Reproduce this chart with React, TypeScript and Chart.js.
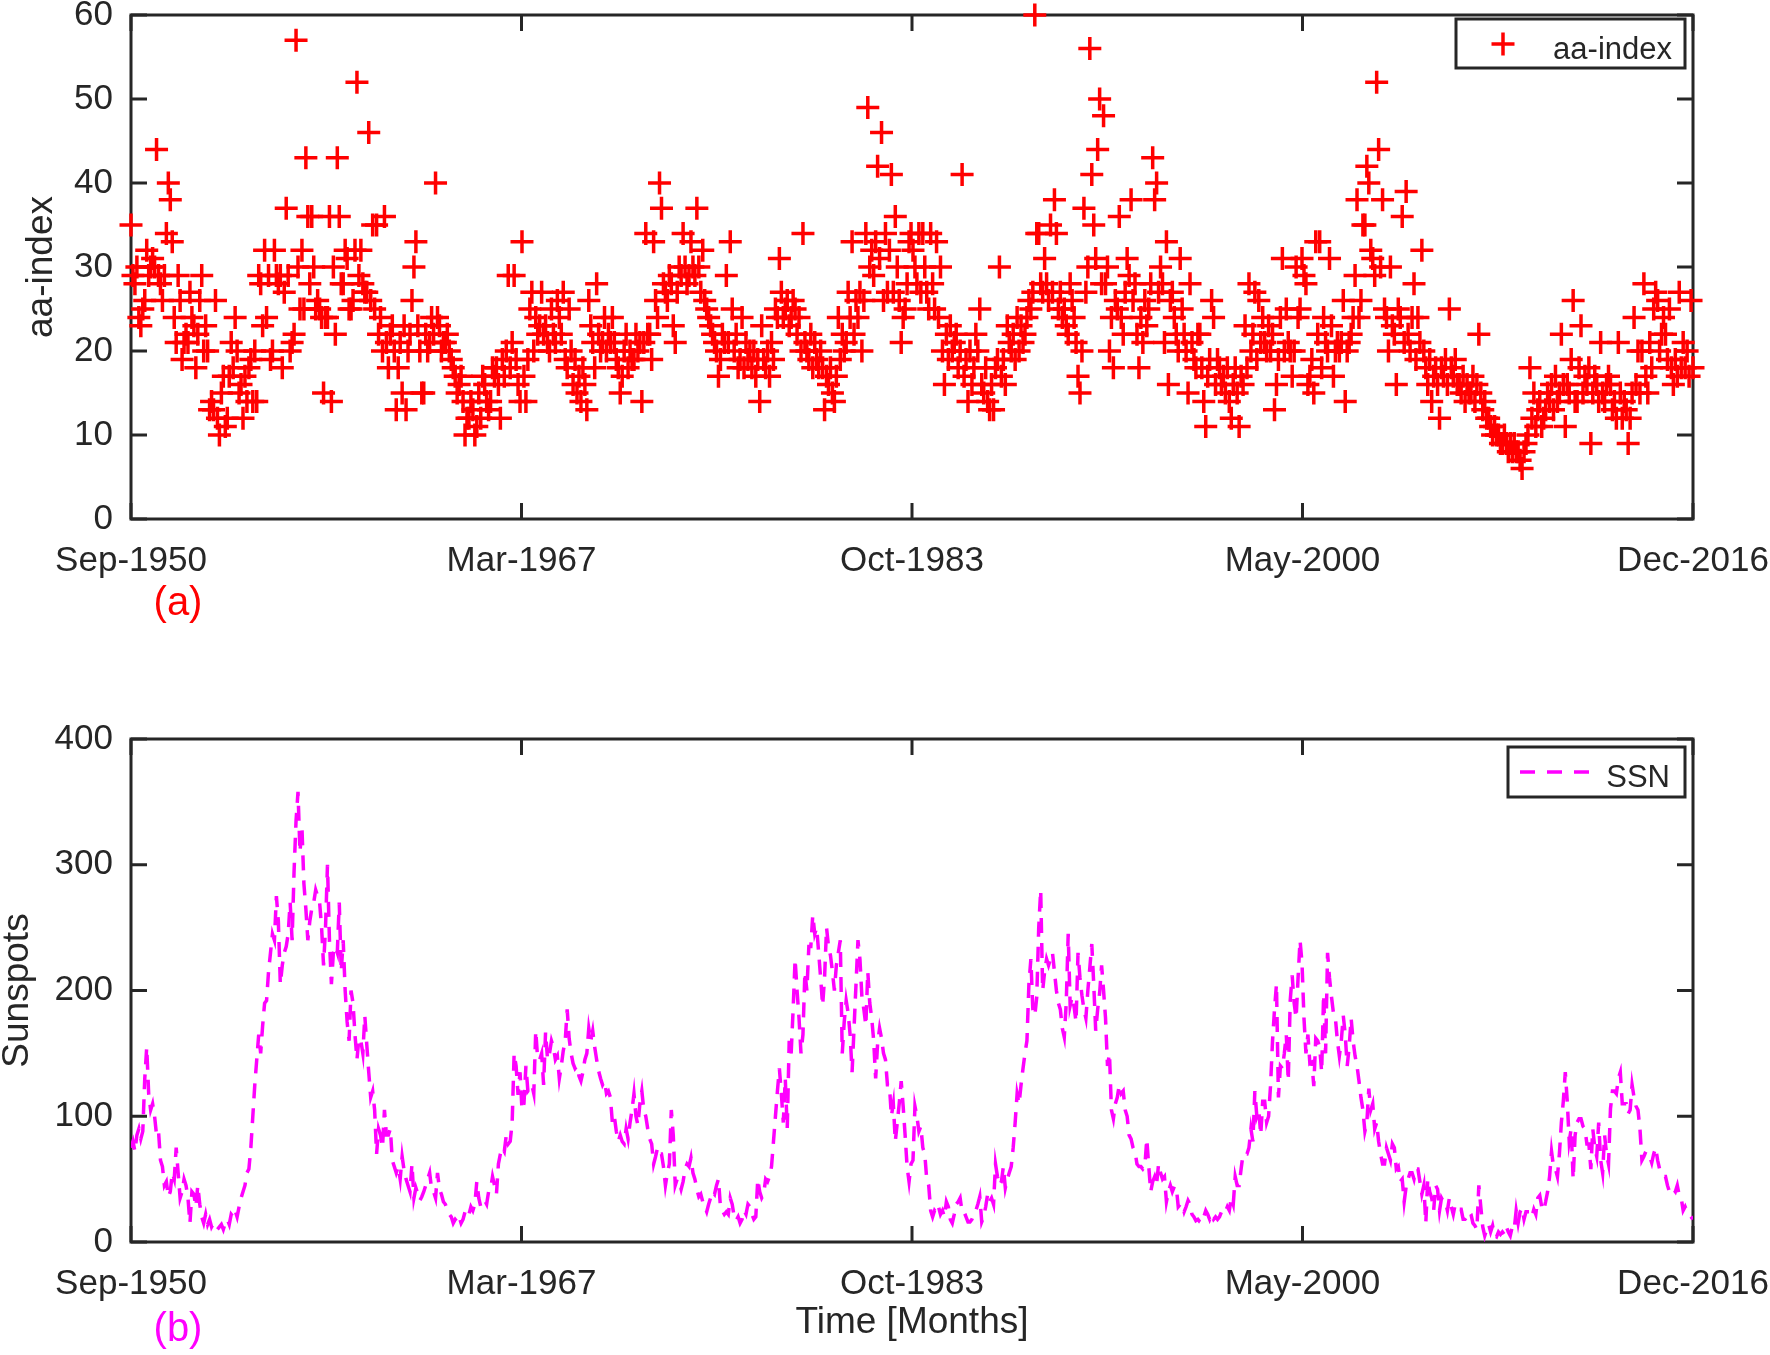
import { useEffect, useRef } from "react"
import { Chart, registerables } from "chart.js"

Chart.register(...registerables)

const FONT = '"Liberation Sans", Arial, Helvetica, sans-serif'
const INK = "#262626"
const RED = "#ff0000"
const MAGENTA = "#ff00ff"

const timeTickLabels = ["Sep-1950", "Mar-1967", "Oct-1983", "May-2000", "Dec-2016"]
const aaTickValues = [0, 10, 20, 30, 40, 50, 60]
const ssnTickValues = [0, 100, 200, 300, 400]

// monthly aa-index, Sep 1950 .. Dec 2016 (one row per year)
const aaIndex = [
  35, 29, 28, 30,
  24, 23, 25, 26, 32, 29, 30, 31, 30, 44, 29, 28,
  26, 29, 34, 40, 38, 33, 24, 21, 29, 26, 19, 21,
  22, 21, 27, 24, 23, 18, 22, 26, 29, 20, 23, 20,
  13, 14, 13, 26, 12, 10, 15, 17, 11, 12, 17, 21,
  18, 24, 20, 15, 16, 12, 17, 14, 18, 19, 14, 20,
  14, 29, 28, 23, 32, 24, 29, 19, 20, 32, 29, 28,
  29, 18, 27, 37, 29, 20, 21, 22, 57, 30, 25, 32,
  25, 43, 36, 28, 36, 30, 25, 26, 25, 24, 15, 24,
  24, 36, 14, 30, 22, 43, 36, 28, 28, 32, 31, 25,
  25, 26, 32, 52, 29, 32, 28, 27, 27, 46, 26, 35,
  25, 35, 22, 24, 20, 36, 21, 18, 22, 23, 20, 13,
  18, 21, 15, 23, 13, 20, 22, 26, 30, 33, 23, 20,
  15, 15, 22, 20, 21, 24, 22, 40, 24, 23, 20, 21,
  21, 22, 20, 19, 18, 17, 15, 16, 17, 14, 10, 12,
  12, 14, 13, 10, 11, 15, 12, 17, 16, 14, 13, 14,
  18, 17, 18, 16, 12, 19, 17, 20, 29, 18, 21, 29,
  19, 16, 14, 33, 17, 14, 19, 25, 27, 20, 24, 22,
  23, 27, 22, 23, 21, 20, 25, 22, 21, 26, 24, 22,
  27, 19, 18, 25, 20, 16, 19, 15, 17, 14, 18, 16,
  13, 26, 23, 21, 18, 28, 22, 20, 21, 24, 20, 22,
  21, 24, 21, 19, 18, 15, 17, 20, 22, 18, 20, 19,
  19, 22, 20, 21, 14, 21, 34, 22, 22, 19, 33, 26,
  24, 40, 37, 28, 27, 26, 29, 28, 23, 21, 27, 30,
  29, 34, 30, 28, 29, 33, 30, 29, 37, 30, 27, 32,
  26, 25, 24, 23, 22, 21, 20, 17, 19, 22, 21, 29,
  21, 33, 25, 20, 22, 18, 19, 24, 18, 21, 19, 20,
  18, 20, 17, 19, 14, 23, 19, 18, 20, 17, 21, 19,
  25, 24, 31, 27, 24, 25, 26, 23, 24, 26, 25, 22,
  24, 20, 34, 21, 20, 19, 22, 18, 21, 19, 18, 20,
  18, 13, 17, 16, 18, 15, 14, 17, 24, 19, 22, 20,
  21, 27, 24, 33, 22, 26, 24, 27, 20, 26, 34, 49,
  30, 32, 29, 33, 42, 31, 46, 26, 34, 27, 32, 41,
  27, 36, 30, 26, 21, 24, 25, 28, 33, 34, 32, 30,
  28, 34, 27, 34, 30, 27, 25, 34, 28, 25, 33, 24,
  30, 20, 16, 22, 19, 23, 20, 21, 22, 18, 20, 41,
  17, 19, 14, 20, 16, 18, 22, 20, 25, 16, 15, 18,
  14, 13, 16, 13, 18, 19, 30, 17, 19, 16, 23, 21,
  20, 22, 19, 24, 20, 23, 21, 22, 24, 26, 25, 27,
  60, 34, 34, 28, 27, 31, 28, 26, 35, 27, 38, 34,
  25, 27, 24, 25, 23, 22, 28, 26, 24, 21, 17, 15,
  20, 37, 27, 30, 56, 41, 35, 31, 44, 50, 28, 48,
  28, 30, 20, 24, 18, 26, 25, 36, 24, 22, 27, 31,
  29, 38, 26, 28, 22, 18, 24, 21, 26, 23, 25, 28,
  43, 38, 40, 27, 30, 28, 21, 33, 16, 26, 27, 24,
  22, 20, 31, 25, 22, 20, 15, 28, 21, 19, 18, 22,
  22, 18, 14, 11, 17, 19, 26, 24, 16, 19, 18, 16,
  17, 15, 18, 14, 12, 16, 18, 15, 11, 17, 16, 23,
  18, 28, 20, 22, 27, 19, 26, 21, 24, 21, 20, 23,
  20, 22, 13, 16, 19, 24, 31, 20, 25, 21, 20, 17,
  20, 30, 24, 25, 31, 29, 28, 16, 17, 19, 15, 33,
  22, 33, 18, 24, 21, 20, 31, 23, 17, 20, 21, 20,
  21, 26, 14, 20, 21, 22, 24, 29, 38, 24, 26, 35,
  35, 42, 40, 32, 31, 29, 52, 44, 30, 38, 25, 24,
  20, 30, 23, 22, 16, 25, 24, 36, 21, 39, 22, 20,
  24, 28, 19, 24, 21, 32, 20, 18, 16, 19, 14, 17,
  18, 16, 12, 18, 17, 19, 16, 25, 18, 17, 19, 16,
  16, 15, 17, 14, 16, 15, 15, 17, 14, 16, 22, 15,
  13, 14, 12, 12, 11, 10, 11, 10, 10, 9, 9, 10,
  9, 8, 9, 8, 9, 8, 8, 7, 6, 8, 9, 10,
  18, 12, 15, 11, 13, 14, 11, 12, 13, 15, 14, 16,
  13, 17, 14, 15, 22, 16, 11, 16, 15, 19, 26, 14,
  14, 18, 23, 15, 17, 16, 18, 9, 15, 17, 16, 14,
  21, 15, 14, 16, 17, 16, 13, 14, 12, 21, 15, 12,
  14, 13, 9, 12, 15, 24, 16, 20, 15, 20, 28, 17,
  15, 21, 18, 25, 27, 26, 20, 22, 24, 22, 19, 25,
  18, 16, 19, 17, 27, 18, 21, 18, 20, 17, 26, 18,
]

// monthly sunspot number, Sep 1950 .. Dec 2016 (one row per year)
const sunspots = [
  75, 80, 72, 85,
  90, 82, 88, 130, 155, 118, 105, 110, 100, 85, 88, 65,
  60, 45, 48, 36, 40, 55, 50, 75, 55, 35, 40, 50,
  45, 35, 15, 40, 38, 28, 45, 30, 20, 15, 22, 14,
  18, 12, 15, 12, 10, 12, 14, 10, 15, 18, 14, 22,
  20, 25, 20, 28, 35, 40, 45, 55, 58, 75, 100, 125,
  145, 165, 150, 172, 190, 192, 215, 230, 245, 240, 275, 255,
  205, 220, 230, 235, 245, 270, 240, 295, 335, 358, 310, 330,
  285, 265, 240, 255, 265, 270, 280, 275, 270, 250, 220, 250,
  300, 240, 205, 230, 235, 230, 270, 215, 240, 200, 175, 160,
  200, 190, 165, 145, 162, 160, 150, 180, 157, 135, 115, 120,
  105, 70, 90, 85, 75, 105, 85, 85, 90, 65, 60, 55,
  60, 50, 68, 57, 50, 45, 40, 62, 35, 43, 38, 33,
  36, 40, 45, 50, 55, 42, 40, 35, 55, 42, 38, 32,
  30, 25, 22, 20, 15, 18, 16, 20, 15, 18, 24, 20,
  22, 28, 25, 30, 48, 35, 28, 30, 33, 30, 40, 42,
  52, 45, 38, 62, 70, 75, 72, 85, 78, 80, 95, 150,
  140, 117, 135, 105, 110, 140, 120, 122, 125, 118, 168, 145,
  145, 150, 125, 167, 145, 150, 160, 155, 145, 148, 130, 140,
  152, 160, 185, 162, 150, 142, 138, 140, 132, 128, 135, 145,
  150, 170, 160, 168, 155, 145, 136, 130, 125, 128, 118, 120,
  115, 95, 100, 88, 80, 85, 80, 78, 90, 82, 95, 105,
  118, 100, 93, 110, 120, 105, 100, 90, 82, 78, 62, 68,
  75, 70, 70, 60, 45, 55, 62, 105, 85, 45, 50, 48,
  42, 48, 58, 62, 60, 67, 55, 50, 42, 36, 38, 32,
  28, 24, 30, 35, 40, 38, 45, 50, 28, 25, 22, 24,
  22, 35, 30, 20, 17, 20, 15, 18, 25, 22, 30, 28,
  22, 18, 20, 50, 40, 35, 38, 50, 48, 52, 60, 80,
  100, 120, 138, 118, 95, 130, 90, 160, 150, 185, 225, 200,
  178, 150, 165, 215, 200, 235, 235, 260, 245, 250, 230, 210,
  188, 210, 250, 235, 228, 215, 200, 220, 230, 240, 150, 175,
  192, 182, 165, 135, 170, 205, 240, 225, 195, 185, 172, 215,
  190, 178, 160, 130, 158, 170, 162, 150, 145, 125, 125, 100,
  110, 80, 95, 110, 128, 108, 85, 60, 48, 62, 65, 108,
  100, 88, 92, 75, 70, 50, 45, 25, 20, 25, 23, 28,
  22, 25, 20, 32, 28, 18, 15, 22, 30, 32, 35, 24,
  24, 20, 16, 16, 18, 22, 25, 30, 36, 16, 20, 28,
  38, 32, 35, 30, 62, 52, 45, 48, 60, 43, 50, 55,
  60, 75, 95, 118, 110, 125, 138, 150, 160, 205, 225, 185,
  180, 195, 250, 280, 200, 215, 225, 220, 225, 230, 215, 200,
  190, 185, 170, 163, 190, 245, 188, 195, 187, 175, 230, 210,
  196, 185, 178, 200, 218, 237, 205, 168, 185, 198, 220, 200,
  178, 140, 150, 105, 98, 110, 115, 125, 118, 120, 105, 100,
  85, 82, 75, 72, 62, 60, 60, 58, 60, 82, 60, 40,
  48, 52, 46, 62, 55, 50, 52, 32, 40, 45, 40, 44,
  44, 28, 30, 30, 24, 28, 33, 30, 22, 20, 17, 18,
  16, 15, 20, 25, 22, 18, 22, 18, 20, 18, 20, 24,
  22, 24, 28, 25, 35, 30, 52, 45, 45, 58, 70, 70,
  70, 75, 90, 80, 120, 100, 105, 85, 112, 112, 95, 100,
  125, 160, 185, 205, 115, 140, 138, 150, 165, 128, 192, 212,
  190, 178, 210, 240, 222, 178, 150, 165, 142, 143, 124, 162,
  160, 155, 135, 197, 150, 230, 210, 195, 182, 178, 160, 148,
  160, 180, 165, 140, 155, 178, 160, 148, 140, 128, 115, 105,
  88, 95, 122, 105, 110, 90, 95, 80, 70, 62, 62, 75,
  70, 65, 78, 75, 58, 60, 48, 50, 32, 44, 50, 55,
  55, 50, 58, 58, 48, 38, 45, 15, 50, 40, 35, 25,
  45, 42, 25, 35, 32, 32, 25, 35, 28, 22, 30, 28,
  26, 26, 18, 18, 20, 24, 22, 15, 13, 10, 45, 28,
  12, 5, 10, 14, 8, 13, 5, 4, 8, 6, 8, 6,
  12, 8, 5, 12, 10, 25, 15, 24, 27, 18, 24, 24,
  24, 20, 26, 22, 35, 37, 28, 25, 32, 40, 52, 72,
  60, 58, 52, 70, 95, 112, 135, 112, 80, 90, 50, 85,
  95, 98, 98, 92, 90, 78, 78, 58, 90, 75, 68, 95,
  65, 55, 85, 70, 62, 106, 120, 120, 118, 130, 135, 110,
  110, 110, 102, 105, 125, 115, 108, 105, 90, 65, 68, 72,
  70, 68, 63, 70, 75, 65, 58, 55, 52, 52, 45, 40,
  43, 42, 40, 45, 37, 35, 25, 28, 24, 22, 20, 18,
]

const lastMonth = aaIndex.length - 1
// datetick puts the five labels evenly over the span
const timeTicks = timeTickLabels.map((_, i) => (i * lastMonth) / (timeTickLabels.length - 1))

type Panel = {
  yTicks: number[]
  yTitle: string
  yTitleX: number
  tag: string
  tagColor: string
  tagY: number
  xTitle?: string
  xTitleY?: number
  legend: (ctx: CanvasRenderingContext2D) => void
}

function matlabAxes(p: Panel) {
  return {
    id: "matlabAxes",
    beforeDatasetsDraw(chart: Chart) {
      const { ctx, chartArea: a } = chart
      const xs = chart.scales.x
      const ys = chart.scales.y
      ctx.save()
      ctx.strokeStyle = INK
      ctx.lineWidth = 3
      ctx.strokeRect(a.left, a.top, a.right - a.left, a.bottom - a.top)

      // inward ticks on all four sides
      ctx.beginPath()
      p.yTicks.forEach((v) => {
        const py = ys.getPixelForValue(v)
        ctx.moveTo(a.left, py)
        ctx.lineTo(a.left + 16, py)
        ctx.moveTo(a.right, py)
        ctx.lineTo(a.right - 16, py)
      })
      timeTicks.forEach((v) => {
        const px = xs.getPixelForValue(v)
        ctx.moveTo(px, a.bottom)
        ctx.lineTo(px, a.bottom - 16)
        ctx.moveTo(px, a.top)
        ctx.lineTo(px, a.top + 16)
      })
      ctx.stroke()

      ctx.fillStyle = INK
      ctx.font = `35px ${FONT}`
      ctx.textAlign = "right"
      ctx.textBaseline = "middle"
      p.yTicks.forEach((v) => ctx.fillText(String(v), a.left - 18, ys.getPixelForValue(v)))
      ctx.textAlign = "center"
      ctx.textBaseline = "alphabetic"
      timeTicks.forEach((v, i) => ctx.fillText(timeTickLabels[i], xs.getPixelForValue(v), a.bottom + 52))

      ctx.font = `37px ${FONT}`
      ctx.textBaseline = "middle"
      ctx.save()
      ctx.translate(p.yTitleX, (a.top + a.bottom) / 2)
      ctx.rotate(-Math.PI / 2)
      ctx.fillText(p.yTitle, 0, 0)
      ctx.restore()
      if (p.xTitle) ctx.fillText(p.xTitle, (a.left + a.right) / 2, p.xTitleY ?? 0)

      ctx.font = `40px ${FONT}`
      ctx.fillStyle = p.tagColor
      ctx.fillText(p.tag, 178, p.tagY)
      ctx.restore()
    },
    afterDraw(chart: Chart) {
      const ctx = chart.ctx
      ctx.save()
      p.legend(ctx)
      ctx.restore()
    },
  }
}

function legendBox(ctx: CanvasRenderingContext2D, x: number, y: number, w: number, h: number) {
  ctx.fillStyle = "#fff"
  ctx.fillRect(x, y, w, h)
  ctx.strokeStyle = INK
  ctx.lineWidth = 3
  ctx.strokeRect(x, y, w, h)
}

export default function App() {
  const topRef = useRef<HTMLCanvasElement>(null)
  const bottomRef = useRef<HTMLCanvasElement>(null)

  useEffect(() => {
    if (!topRef.current || !bottomRef.current) return

    const aaChart = new Chart(topRef.current, {
      type: "scatter",
      data: {
        datasets: [
          {
            label: "aa-index",
            data: aaIndex.map((v, i) => ({ x: i, y: v })),
            pointStyle: "cross",
            pointRadius: 11.5,
            pointHoverRadius: 11.5,
            pointBorderWidth: 3.5,
            pointBorderColor: RED,
            pointBackgroundColor: RED,
            borderColor: RED,
            clip: false,
          },
        ],
      },
      options: {
        animation: false,
        responsive: false,
        events: [],
        layout: { padding: { top: 14, right: 77, left: 0, bottom: 0 } },
        plugins: { legend: { display: false }, tooltip: { enabled: false } },
        scales: {
          x: {
            type: "linear",
            min: 0,
            max: lastMonth,
            grid: { display: false },
            border: { display: false },
            ticks: { display: false },
            afterFit: (s: any) => {
              s.height = 141
            },
          },
          y: {
            min: 0,
            max: 60,
            grid: { display: false },
            border: { display: false },
            ticks: { display: false },
            afterFit: (s: any) => {
              s.width = 131
            },
          },
        },
      },
      plugins: [
        matlabAxes({
          yTicks: aaTickValues,
          yTitle: "aa-index",
          yTitleX: 42,
          tag: "(a)",
          tagColor: RED,
          tagY: 604,
          legend: (ctx) => {
            legendBox(ctx, 1456, 19, 229, 49)
            ctx.strokeStyle = RED
            ctx.lineWidth = 3.5
            ctx.beginPath()
            ctx.moveTo(1491.5, 44)
            ctx.lineTo(1514.5, 44)
            ctx.moveTo(1503, 32.5)
            ctx.lineTo(1503, 55.5)
            ctx.stroke()
            ctx.fillStyle = INK
            ctx.font = `31px ${FONT}`
            ctx.textAlign = "right"
            ctx.textBaseline = "alphabetic"
            ctx.fillText("aa-index", 1672, 59)
          },
        }),
      ],
    })

    const ssnChart = new Chart(bottomRef.current, {
      type: "line",
      data: {
        datasets: [
          {
            label: "SSN",
            data: sunspots.map((v, i) => ({ x: i, y: v })),
            borderColor: MAGENTA,
            borderWidth: 3.5,
            borderDash: [15, 10],
            pointRadius: 0,
            tension: 0,
            fill: false,
          },
        ],
      },
      options: {
        animation: false,
        responsive: false,
        events: [],
        layout: { padding: { top: 79, right: 77, left: 0, bottom: 0 } },
        plugins: { legend: { display: false }, tooltip: { enabled: false } },
        scales: {
          x: {
            type: "linear",
            min: 0,
            max: lastMonth,
            grid: { display: false },
            border: { display: false },
            ticks: { display: false },
            afterFit: (s: any) => {
              s.height = 113
            },
          },
          y: {
            min: 0,
            max: 400,
            grid: { display: false },
            border: { display: false },
            ticks: { display: false },
            afterFit: (s: any) => {
              s.width = 131
            },
          },
        },
      },
      plugins: [
        matlabAxes({
          yTicks: ssnTickValues,
          yTitle: "Sunspots",
          yTitleX: 18,
          tag: "(b)",
          tagColor: MAGENTA,
          tagY: 670,
          xTitle: "Time [Months]",
          xTitleY: 663,
          legend: (ctx) => {
            legendBox(ctx, 1508, 87, 177, 50)
            ctx.strokeStyle = MAGENTA
            ctx.lineWidth = 3.5
            ctx.setLineDash([15, 12])
            ctx.beginPath()
            ctx.moveTo(1520, 112)
            ctx.lineTo(1590, 112)
            ctx.stroke()
            ctx.setLineDash([])
            ctx.fillStyle = INK
            ctx.font = `31px ${FONT}`
            ctx.textAlign = "right"
            ctx.textBaseline = "alphabetic"
            ctx.fillText("SSN", 1670, 127)
          },
        }),
      ],
    })

    return () => {
      aaChart.destroy()
      ssnChart.destroy()
    }
  }, [])

  return (
    <div style={{ position: "absolute", left: 0, top: 0, width: 1770, height: 1355, background: "#fff" }}>
      <canvas
        ref={topRef}
        width={1770}
        height={660}
        style={{ position: "absolute", left: 0, top: 0, width: 1770, height: 660 }}
      />
      <canvas
        ref={bottomRef}
        width={1770}
        height={695}
        style={{ position: "absolute", left: 0, top: 660, width: 1770, height: 695 }}
      />
    </div>
  )
}
